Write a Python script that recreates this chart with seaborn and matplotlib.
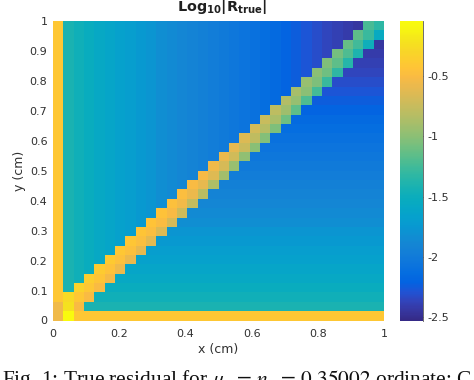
import numpy as np
import pandas as pd
import matplotlib
matplotlib.use("Agg")
import matplotlib.pyplot as plt
from matplotlib.colors import LinearSegmentedColormap
import seaborn as sns

# Value of the smooth background, indexed by min(row, column)
background = [-0.40, -1.42, -1.47, -1.52, -1.57, -1.62, -1.66, -1.70,
              -1.74, -1.78, -1.82, -1.86, -1.89, -1.92, -1.95, -1.98,
              -2.01, -2.04, -2.07, -2.10, -2.13, -2.16, -2.20, -2.24,
              -2.28, -2.32, -2.36, -2.39, -2.42, -2.45, -2.47, -2.50]
# Three-cell staircase along the diagonal, row by row (row 0 is at the bottom)
band_left = [None, -0.55, -0.27, -0.32, -0.36, -0.38, -0.39, -0.40,
             -0.41, -0.42, -0.43, -0.44, -0.46, -0.48, -0.50, -0.52,
             -0.55, -0.58, -0.61, -0.65, -0.70, -0.75, -0.79, -0.84,
             -0.89, -0.95, -1.00, -1.04, -1.08, -1.12, -1.15, -1.22]
band_diag = [-0.55, -0.22, -0.40, -0.40, -0.42, -0.44, -0.45, -0.46,
             -0.47, -0.48, -0.49, -0.51, -0.54, -0.57, -0.60, -0.64,
             -0.68, -0.71, -0.74, -0.78, -0.82, -0.87, -0.92, -0.96,
             -1.00, -1.05, -1.10, -1.15, -1.20, -1.25, -1.28, -1.33]
band_right = [-0.05, -0.50, -0.50, -0.50, -0.53, -0.56, -0.58, -0.60,
              -0.62, -0.65, -0.68, -0.72, -0.76, -0.81, -0.86, -0.91,
              -0.95, -0.98, -1.01, -1.03, -1.05, -1.10, -1.15, -1.20,
              -1.24, -1.28, -1.32, -1.36, -1.40, -1.48, -1.55, None]
col0_rows_0_1 = [-0.55, -0.55]
x_ticks = [0, 0.2, 0.4, 0.6, 0.8, 1]
y_ticks = [0, 0.1, 0.2, 0.3, 0.4, 0.5, 0.6, 0.7, 0.8, 0.9, 1]
cbar_ticks = [-2.5, -2, -1.5, -1, -0.5]
parula_rgb = [
    (0.2081, 0.1663, 0.5292), (0.2123, 0.2138, 0.6270), (0.1959, 0.2645, 0.7279),
    (0.1253, 0.3242, 0.8303), (0.0117, 0.3875, 0.8820), (0.0165, 0.4266, 0.8786),
    (0.0498, 0.4586, 0.8641), (0.0723, 0.4887, 0.8467), (0.0793, 0.5200, 0.8312),
    (0.0641, 0.5570, 0.8240), (0.0343, 0.5966, 0.8199), (0.0239, 0.6287, 0.8038),
    (0.0228, 0.6535, 0.7768), (0.0384, 0.6743, 0.7436), (0.0843, 0.6928, 0.7062),
    (0.1453, 0.7098, 0.6646), (0.2178, 0.7250, 0.6193), (0.3022, 0.7376, 0.5712),
    (0.3953, 0.7459, 0.5244), (0.4871, 0.7491, 0.4840), (0.5709, 0.7485, 0.4494),
    (0.6473, 0.7456, 0.4188), (0.7184, 0.7411, 0.3905), (0.7858, 0.7356, 0.3633),
    (0.8507, 0.7299, 0.3360), (0.9139, 0.7258, 0.3063), (0.9739, 0.7314, 0.2666),
    (0.9990, 0.7653, 0.2164), (0.9880, 0.8066, 0.1794), (0.9697, 0.8481, 0.1475),
    (0.9589, 0.8949, 0.1132), (0.9661, 0.9514, 0.0755), (0.9763, 0.9831, 0.0538),
]

n = len(background)
grid = np.array([[background[min(r, c)] for c in range(n)] for r in range(n)])
for r in range(n):
    if band_left[r] is not None:
        grid[r, r - 1] = band_left[r]
    grid[r, r] = band_diag[r]
    if band_right[r] is not None:
        grid[r, r + 1] = band_right[r]
grid[0, 0], grid[1, 0] = col0_rows_0_1
frame = pd.DataFrame(grid)

sns.set_theme(style="white")
plt.rcParams["font.family"] = ["DejaVu Sans"]
parula = LinearSegmentedColormap.from_list("parula", parula_rgb, N=256)
W, H = 474, 380
ink = "#303030"
fig = plt.figure(figsize=(W / 100, H / 100), dpi=100, facecolor="white")
ax = fig.add_axes([53 / W, 1 - 320.5 / H, 331 / W, 299.5 / H])
cax = fig.add_axes([400 / W, 1 - 320.5 / H, 23 / W, 299.5 / H])

sns.heatmap(frame, ax=ax, cbar_ax=cax, cmap=parula, vmin=-2.53, vmax=-0.04,
            xticklabels=False, yticklabels=False, rasterized=True,
            cbar_kws={"ticks": cbar_ticks})
ax.set_xlim(0, n)
ax.set_ylim(0, n)
ax.set_xticks([t * n for t in x_ticks])
ax.set_xticklabels([f"{t:g}" for t in x_ticks])
ax.set_yticks([t * n for t in y_ticks])
ax.set_yticklabels([f"{t:g}" for t in y_ticks])
ax.tick_params(axis="x", labelsize=8, colors=ink, length=0, pad=6)
ax.tick_params(axis="y", labelsize=8, colors=ink, length=0, pad=4)
ax.set_xlabel("x (cm)", fontsize=9, color=ink, labelpad=3)
ax.set_ylabel("y (cm)", fontsize=9, color=ink, labelpad=3)
fig.text(222 / W, 1 - 11.5 / H, r"$\mathbf{Log_{10}|R_{true}|}$", fontsize=10.4,
         color="#202020", ha="center", va="baseline", math_fontfamily="dejavusans")

cax.set_yticklabels([f"{t:g}" for t in cbar_ticks])
cax.tick_params(axis="y", labelsize=8, colors=ink, direction="in", length=3,
                width=0.6, pad=3, right=True)
for side, spine in cax.spines.items():
    spine.set_visible(side == "right")
    spine.set_color("#555555")
    spine.set_linewidth(0.6)

fig.text(2 / W, 1 - 385 / H,
         r"Fig. 1: True residual for $\mu_x\,=\,\eta_y\,=\,0.35002$ ordinate; C",
         fontsize=15.4, family="Liberation Serif", color="#111111",
         ha="left", va="baseline", math_fontfamily="stix")
fig.savefig("out.png", dpi=100)
